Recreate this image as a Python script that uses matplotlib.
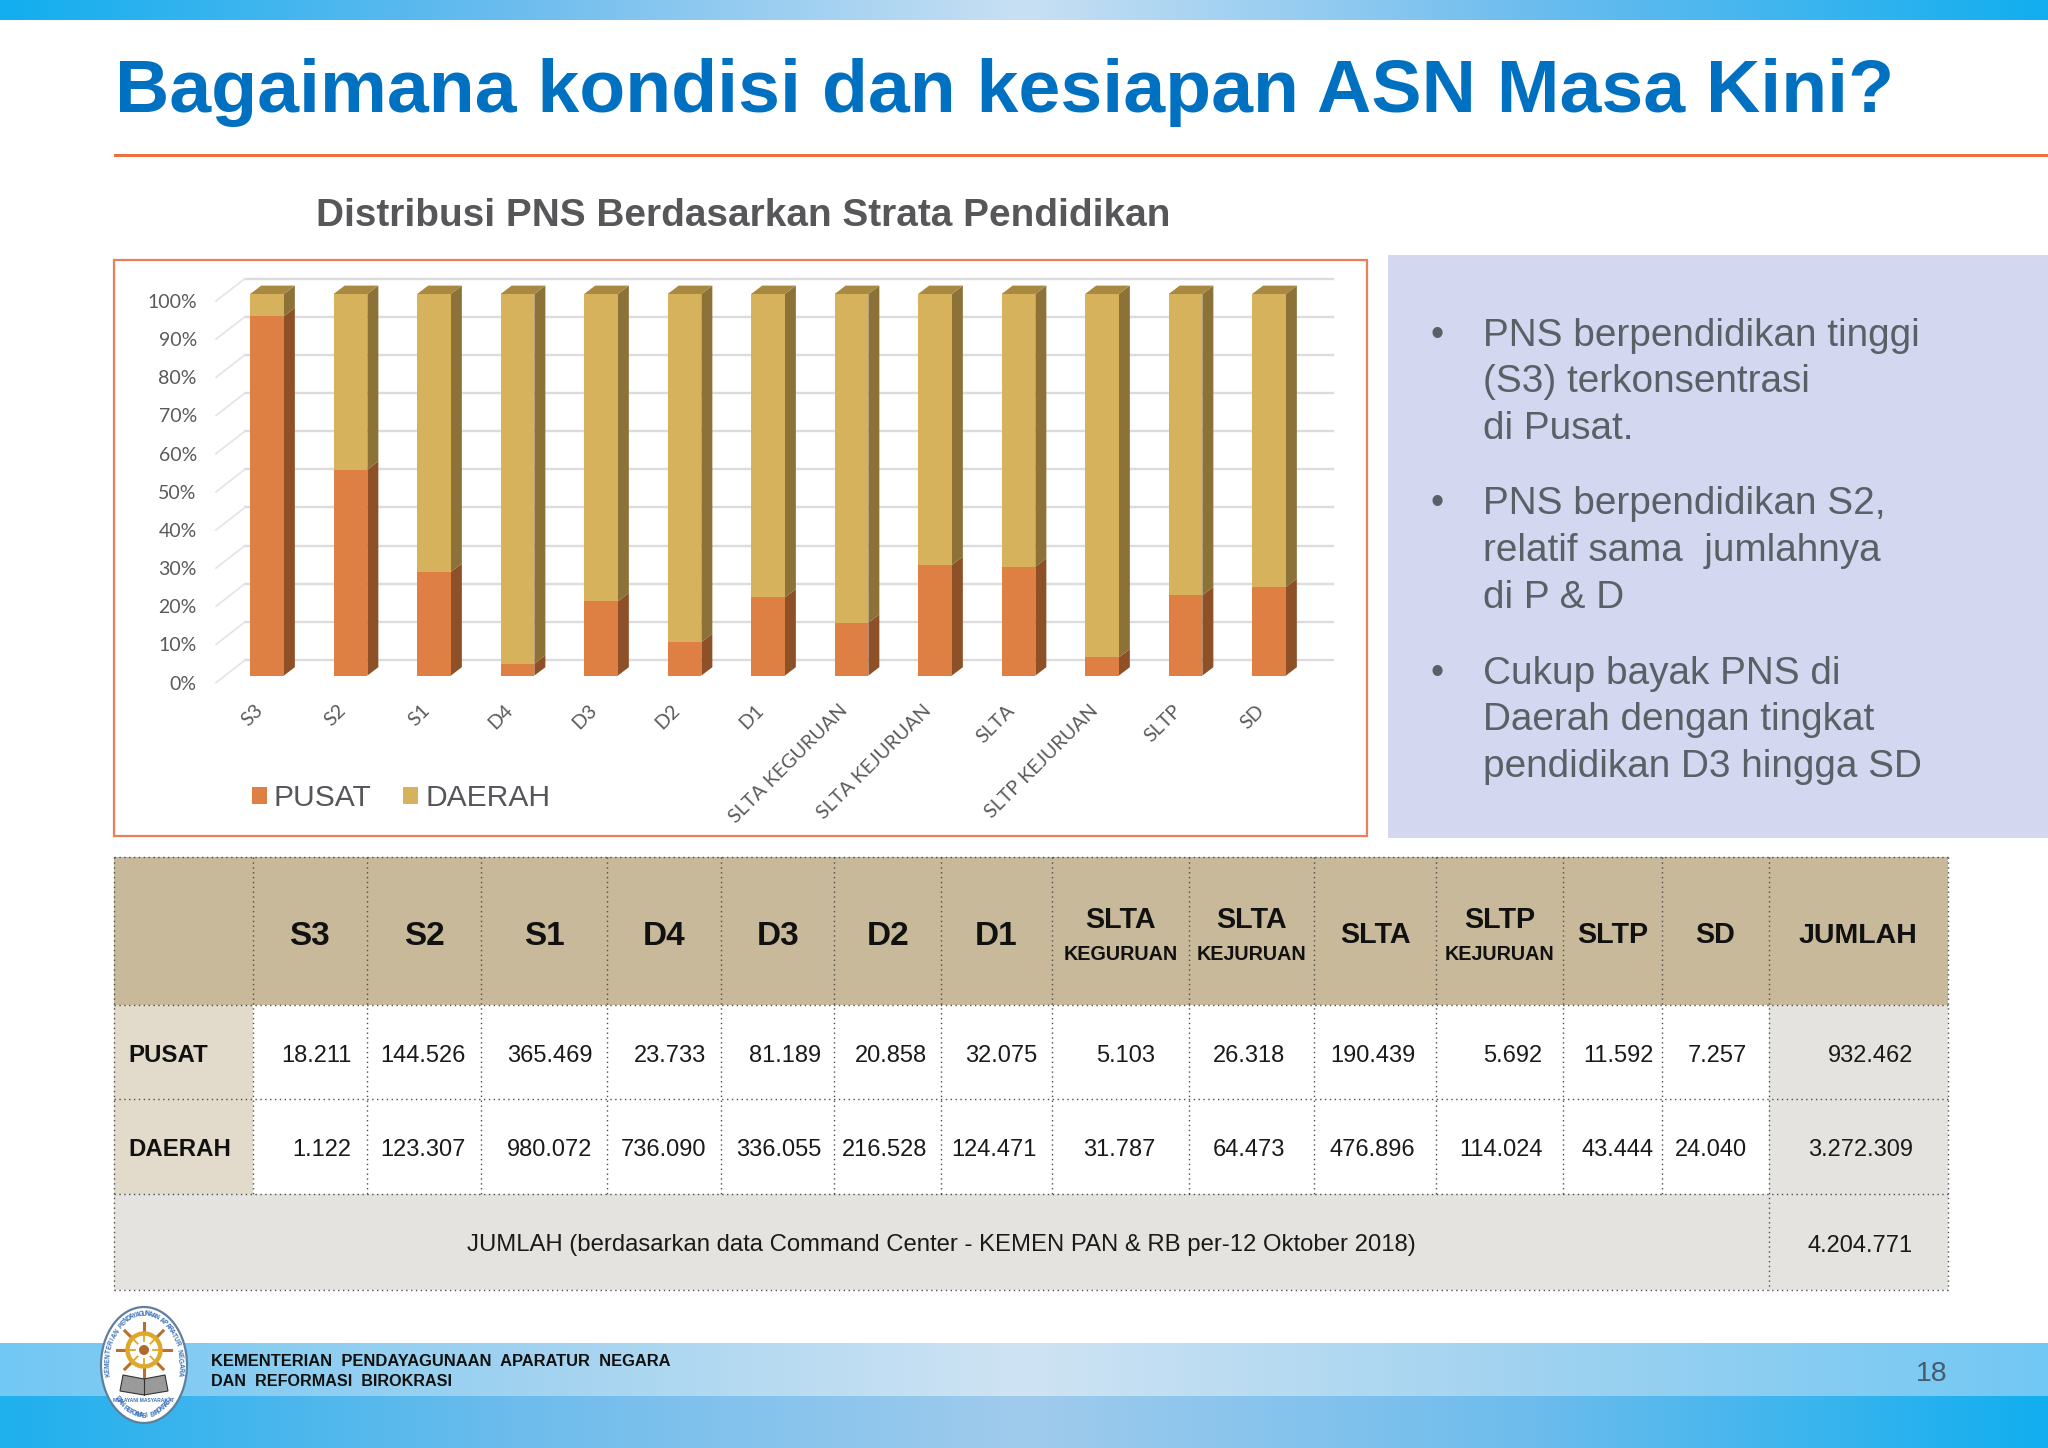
import math
import matplotlib
matplotlib.use('Agg')
import matplotlib.pyplot as plt
import numpy as np
from matplotlib.colors import LinearSegmentedColormap
from matplotlib.patches import Ellipse, Polygon, Rectangle, Circle
from matplotlib.transforms import Affine2D

W, H = 2048, 1448

# data
categories = ['S3', 'S2', 'S1', 'D4', 'D3', 'D2', 'D1', 'SLTA KEGURUAN', 'SLTA KEJURUAN',
              'SLTA', 'SLTP KEJURUAN', 'SLTP', 'SD']
pusat = [18211, 144526, 365469, 23733, 81189, 20858, 32075, 5103, 26318, 190439, 5692, 11592, 7257]
daerah = [1122, 123307, 980072, 736090, 336055, 216528, 124471, 31787, 64473, 476896, 114024, 43444, 24040]
total_pusat = 932462
total_daerah = 3272309
grand_total = 4204771
y_ticks = [0, 10, 20, 30, 40, 50, 60, 70, 80, 90, 100]

header_main = ['S3', 'S2', 'S1', 'D4', 'D3', 'D2', 'D1', 'SLTA', 'SLTA', 'SLTA', 'SLTP', 'SLTP', 'SD', 'JUMLAH']
header_sub = ['', '', '', '', '', '', '', 'KEGURUAN', 'KEJURUAN', '', 'KEJURUAN', '', '', '']

bullets = [
    ['PNS berpendidikan tinggi', '(S3) terkonsentrasi', 'di Pusat.'],
    ['PNS berpendidikan S2,', 'relatif sama  jumlahnya', 'di P & D'],
    ['Cukup bayak PNS di', 'Daerah dengan tingkat', 'pendidikan D3 hingga SD'],
]

title = 'Bagaimana kondisi dan kesiapan ASN Masa Kini?'
subtitle = 'Distribusi PNS Berdasarkan Strata Pendidikan'
table_note = 'JUMLAH (berdasarkan data Command Center - KEMEN PAN & RB per-12 Oktober 2018)'

SANS = 'Liberation Sans'
CHART_FONT = 'Lato'

fig = plt.figure(figsize=(W / 100, H / 100), dpi=100, facecolor='white')

# whole slide in pixel coordinates
bg = fig.add_axes([0, 0, 1, 1])
bg.axis('off')


def band(y0, y1, colors):
    cmap = LinearSegmentedColormap.from_list('band', colors)
    bg.imshow(np.linspace(0, 1, 512)[None, :], extent=[0, W, y1, y0], cmap=cmap, aspect='auto', zorder=1)


band(0, 20, ['#12aeef', '#6cbcee', '#c9e0f3', '#6cbcee', '#12aeef'])
band(1343, 1396, ['#72c8f4', '#a0d2f0', '#cfe3f3', '#a0d2f0', '#72c8f4'])
band(1396, H, ['#1fb0ee', '#6dbcec', '#a0cbec', '#6dbcec', '#12aeef'])
bg.set_xlim(0, W)
bg.set_ylim(H, 0)

bg.text(115, 112, title, fontsize=54.2, fontweight='bold', family=SANS, color='#0070c0', va='baseline', zorder=5)
bg.add_patch(Rectangle((114, 153.5), W - 114, 3.5, color='#ee6f3c', lw=0, zorder=2))
bg.text(316, 225.5, subtitle, fontsize=27.9, fontweight='bold', family=SANS, color='#57575a', va='baseline', zorder=5)

# chart frame and side panel
bg.add_patch(Rectangle((113.5, 259.5), 1253.5, 576, fc='white', ec='#ec7f56', lw=1.6, zorder=2))
bg.add_patch(Rectangle((1388, 255), W - 1388, 583, fc='#d3d7ef', lw=0, zorder=2))

for b, lines in enumerate(bullets):
    y = 345.5 + b * 169
    bg.text(1431, y, '•', fontsize=27, family=SANS, color='#5a6066', va='baseline', zorder=5)
    for k, line in enumerate(lines):
        bg.text(1483, y + k * 46.7, line, fontsize=27.9, family=SANS, color='#5a6066', va='baseline', zorder=5)

# stacked 3d-look bars
ax = fig.add_axes([225.25 / W, 1 - 675.6 / H, 1085.5 / W, 381.6 / H], zorder=3)
ax.patch.set_alpha(0)
for s in ax.spines.values():
    s.set_visible(False)
ax.set_xlim(-0.5, 12.5)
ax.set_ylim(0, 100)

px_x = 1 / 83.5  # pixel -> x data
px_y = 100 / 381.6  # pixel -> percent
dep_x, dep_y = 11 * px_x, 8.4 * px_y
bar_w = 33.7 * px_x

pct_p = [100 * p / (p + d) for p, d in zip(pusat, daerah)]
pct_d = [100 - p for p in pct_p]
xs = np.arange(len(categories))

# back wall and floor lines
grid_c = '#dcdce0'
x_wall = -0.5 + (245 - 225.25) * px_x
x_end = -0.5 + (1332.6 - 225.25) * px_x
x_side = -0.5 + (216 - 225.25) * px_x
for v in y_ticks:
    ax.plot([x_wall, x_end], [v + 15.5 * px_y] * 2, color=grid_c, lw=1.7, clip_on=False, zorder=1)
    ax.plot([x_side, x_wall], [v - 7 * px_y, v + 15.5 * px_y], color='#e4e4e8', lw=1.2, clip_on=False, zorder=1)

b1 = ax.bar(xs, pct_p, bar_w, color='#de8044', label='PUSAT', zorder=3)
b2 = ax.bar(xs, pct_d, bar_w, bottom=pct_p, color='#d6b25c', label='DAERAH', zorder=3)
for x, p in zip(xs, pct_p):
    r = x + bar_w / 2
    l = x - bar_w / 2
    ax.add_patch(Polygon([(r, 0), (r + dep_x, dep_y), (r + dep_x, p + dep_y), (r, p)], fc='#8e5027', lw=0, clip_on=False, zorder=2))
    ax.add_patch(Polygon([(r, p), (r + dep_x, p + dep_y), (r + dep_x, 100 + dep_y), (r, 100)], fc='#8c7237', lw=0, clip_on=False, zorder=2))
    ax.add_patch(Polygon([(l, 100), (r, 100), (r + dep_x, 100 + dep_y), (l + dep_x, 100 + dep_y)], fc='#a98842', lw=0, clip_on=False, zorder=2))

ax.set_yticks(y_ticks)
ax.set_yticklabels([f'{v}%' for v in y_ticks], fontsize=14, family=CHART_FONT, color='#5a5a5a')
ax.tick_params(axis='y', length=0, pad=20.5)
ax.set_xticks(xs)
ax.set_xticklabels(categories, fontsize=14.2, family=CHART_FONT, color='#5a5a5a', rotation=45, ha='right',
                   va='center', rotation_mode='anchor')
ax.tick_params(axis='x', length=0, pad=23)
for t in ax.get_yticklabels():
    t.set_transform(t.get_transform() + Affine2D().translate(0, -7))
for t in ax.get_xticklabels():
    t.set_transform(t.get_transform() + Affine2D().translate(-7, 0))

ax.legend(handles=[b1, b2], ncol=2, frameon=False, loc='lower left', bbox_to_anchor=(252 / W, 1 - 812 / H),
          bbox_transform=fig.transFigure, borderaxespad=0, borderpad=0, handlelength=0.5, handleheight=0.5,
          handletextpad=0.23, columnspacing=1.05, labelcolor='#55555c', prop={'family': SANS, 'size': 21.6})

# table
col_x = [113.5, 252.7, 367, 481, 607, 721, 834.3, 941.3, 1051.7, 1189.3, 1314, 1436, 1563.3, 1661.7, 1768.7, 1948]
row_y = [857, 1005, 1099, 1194, 1290]
num_right = [351.5, 466, 592.5, 706, 821, 927, 1037, 1155, 1285.5, 1415, 1542.5, 1654, 1747]
HEAD, SIDE, GREY = '#c7b999', '#e2dacb', '#e4e3df'


def cell(x0, x1, y0, y1, c):
    bg.add_patch(Rectangle((x0, y0), x1 - x0, y1 - y0, fc=c, lw=0, zorder=2))


cell(col_x[0], col_x[-1], row_y[0], row_y[1], HEAD)
cell(col_x[0], col_x[1], row_y[1], row_y[3], SIDE)
cell(col_x[-2], col_x[-1], row_y[1], row_y[4], GREY)
cell(col_x[0], col_x[-1], row_y[3], row_y[4], GREY)

dot = dict(color='#4d4d4d', lw=1.0, linestyle=(0, (1, 2.5)), zorder=4)
for y in row_y:
    bg.plot([col_x[0], col_x[-1]], [y, y], **dot)
for i, x in enumerate(col_x):
    bottom = row_y[4] if i in (0, len(col_x) - 2, len(col_x) - 1) else row_y[3]
    bg.plot([x, x], [row_y[0], bottom], **dot)

for i, (m, s) in enumerate(zip(header_main, header_sub)):
    cx = (col_x[i + 1] + col_x[i + 2]) / 2
    if m == 'JUMLAH':
        size = 20.5
    elif len(m) == 2 and m != 'SD':
        size = 24
    else:
        size = 20.7
    if s:
        bg.text(cx, 928.5, m, fontsize=size, fontweight='bold', family=SANS, ha='center', va='baseline', color='#111', zorder=5)
        bg.text(cx, 959.5, s, fontsize=14.2, fontweight='bold', family=SANS, ha='center', va='baseline', color='#111', zorder=5)
    else:
        base = 945 if size == 24 else 943
        bg.text(cx, base, m, fontsize=size, fontweight='bold', family=SANS, ha='center', va='baseline', color='#111', zorder=5)


def fmt(v):
    return f'{v:,}'.replace(',', '.')


num_size = 17
for y, name, vals, tot in zip([1061.5, 1156.5], ['PUSAT', 'DAERAH'], [pusat, daerah], [total_pusat, total_daerah]):
    bg.text(128, y, name, fontsize=17.3, fontweight='bold', family=SANS, va='baseline', color='#111', zorder=5)
    for xr, v in zip(num_right, vals):
        bg.text(xr, y, fmt(v), fontsize=num_size, family=SANS, ha='right', va='baseline', color='#1a1a1a', zorder=5)
    bg.text(1913, y, fmt(tot), fontsize=num_size, family=SANS, ha='right', va='baseline', color='#1a1a1a', zorder=5)
bg.text(941, 1251.5, table_note, fontsize=17.2, family=SANS, ha='center', va='baseline', color='#1a1a1a', zorder=5)
bg.text(1913, 1251.5, fmt(grand_total), fontsize=num_size, family=SANS, ha='right', va='baseline', color='#1a1a1a', zorder=5)

# footer
bg.text(211, 1365.5, 'KEMENTERIAN  PENDAYAGUNAAN  APARATUR  NEGARA', fontsize=11.9, fontweight='bold', family=SANS,
        color='#111', va='baseline', zorder=5)
bg.text(211, 1386.5, 'DAN  REFORMASI  BIROKRASI', fontsize=11.6, fontweight='bold', family=SANS, color='#111',
        va='baseline', zorder=5)
bg.text(1948, 1381, '18', fontsize=20.5, family=SANS, color='#4a5a6b', ha='right', va='baseline', zorder=5)

# logo
cx, cy = 144, 1365
bg.add_patch(Ellipse((cx, cy), 86, 116, fc='white', ec='#5f7f9f', lw=1.6, zorder=5))


def ring_text(text, a0, a1, top=True):
    for ch, t in zip(text, np.linspace(a0, a1, len(text))):
        a = math.radians(t)
        rot = t - 90 if top else t + 90
        bg.text(cx + 36 * math.cos(a), cy - 51 * math.sin(a), ch, fontsize=4.8, fontweight='bold', family=SANS,
                color='#3b72b8', ha='center', va='center', rotation=rot, zorder=6)


ring_text('KEMENTERIAN PENDAYAGUNAAN APARATUR NEGARA', 190, -10)
ring_text('DAN REFORMASI BIROKRASI', 222, 318, top=False)

wx, wy = 144, 1350
for a in range(0, 360, 45):
    ca, sa = math.cos(math.radians(a)), math.sin(math.radians(a))
    bg.plot([wx + 9 * ca, wx + 15 * ca], [wy + 9 * sa, wy + 15 * sa], color='#e0a82a', lw=1.3, zorder=6)
    bg.plot([wx + 18 * ca, wx + 27 * ca], [wy + 18 * sa, wy + 27 * sa], color='#b8712c', lw=2.2, zorder=6)
bg.add_patch(Circle((wx, wy), 16.5, fc='none', ec='#e0a82a', lw=3.2, zorder=6))
bg.add_patch(Circle((wx, wy), 5, fc='#b0682c', lw=0, zorder=7))
bg.add_patch(Polygon([(123, 1375), (144, 1379), (165, 1375), (168, 1391), (144, 1395), (120, 1391)], fc='#9a9a9a', ec='#333', lw=0.8, zorder=6))
bg.plot([144, 144], [1379, 1395], color='#333', lw=0.8, zorder=7)
bg.text(144, 1401, 'MELAYANI MASYARAKAT', fontsize=3.6, fontweight='bold', family=SANS, color='#3b72b8',
        ha='center', va='center', zorder=7)

fig.savefig('out.png', dpi=100)
